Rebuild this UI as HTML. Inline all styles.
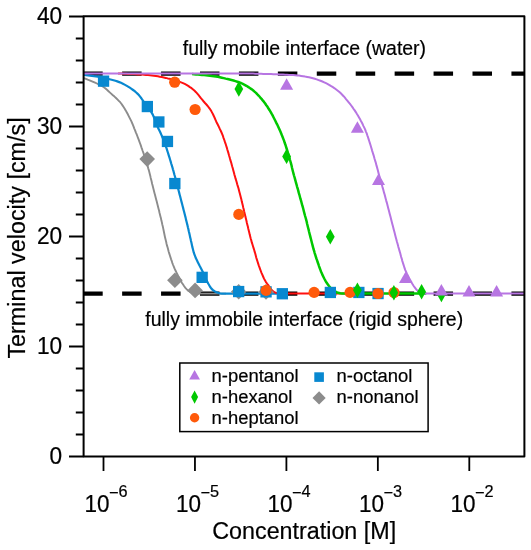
<!DOCTYPE html>
<html lang="en"><head><meta charset="utf-8"><title>Terminal velocity vs concentration</title>
<style>html,body{margin:0;padding:0;background:#fff}svg{display:block}svg text{font-family:"Liberation Sans",Arial,Helvetica,sans-serif;stroke:#000;stroke-width:0.2px}</style></head>
<body>
<svg width="531" height="550" viewBox="0 0 531 550" fill="#000">
<rect width="531" height="550" fill="#fff"/>
<!-- limit lines -->
<line x1="83.2" y1="73.6" x2="524.4" y2="73.6" stroke="#000" stroke-width="4.2" stroke-dasharray="19.5 19.43"/>
<line x1="83.2" y1="293.7" x2="524.4" y2="293.7" stroke="#000" stroke-width="4.2" stroke-dasharray="19.5 19.43"/>
<!-- fitted curves -->
<g fill="none" stroke-linejoin="round">
<path d="M84.0,78.1L85.9,78.8L87.7,79.6L89.6,80.3L91.4,81.1L93.2,81.9L95.1,82.7L96.9,83.5L98.8,84.4L100.6,85.2L102.3,86.2L103.9,87.3L105.5,88.5L107.0,89.8L108.5,91.2L110.0,92.6L111.4,93.9L112.9,95.3L114.5,96.6L116.0,98.0L117.4,99.4L118.8,100.8L120.2,102.2L121.4,103.8L122.5,105.4L123.6,107.0L124.7,108.7L125.7,110.4L126.7,112.2L127.7,114.0L128.6,115.8L129.5,117.6L130.4,119.4L131.3,121.2L132.1,123.0L132.9,124.8L133.6,126.7L134.3,128.6L135.1,130.4L135.8,132.3L136.6,134.1L137.3,136.0L138.0,137.9L138.7,139.7L139.4,141.6L140.1,143.5L140.8,145.4L141.4,147.3L142.1,149.2L142.7,151.0L143.4,152.9L144.0,154.8L144.7,156.7L145.3,158.6L145.9,160.5L146.5,162.4L147.1,164.3L147.7,166.3L148.2,168.2L148.8,170.1L149.3,172.0L149.8,174.0L150.3,175.9L150.7,177.9L151.2,179.8L151.7,181.8L152.1,183.7L152.6,185.6L153.1,187.6L153.6,189.5L154.1,191.5L154.6,193.4L155.1,195.3L155.6,197.3L156.1,199.2L156.6,201.1L157.1,203.1L157.6,205.0L158.1,207.0L158.6,208.9L159.1,210.8L159.5,212.8L160.0,214.7L160.5,216.7L161.0,218.6L161.4,220.6L161.9,222.5L162.3,224.5L162.8,226.4L163.2,228.4L163.6,230.3L164.0,232.3L164.4,234.2L164.8,236.2L165.2,238.1L165.7,240.1L166.2,242.0L166.6,244.0L167.1,245.9L167.7,247.8L168.2,249.8L168.7,251.7L169.3,253.6L169.9,255.5L170.5,257.4L171.1,259.3L171.8,261.2L172.4,263.1L173.1,265.0L173.9,266.9L174.6,268.7L175.5,270.5L176.4,272.3L177.3,274.1L178.2,275.9L179.2,277.6L180.1,279.4L181.0,281.2L182.0,282.9L183.1,284.6L184.2,286.3L185.4,287.9L186.8,289.4L188.2,290.7L189.9,291.8L191.7,292.6L193.7,293.3L195.6,293.6L197.6,293.6L199.5,293.6L201.5,293.6L203.5,293.6L205.4,293.6L207.4,293.6L209.4,293.6L211.4,293.6L213.4,293.6L215.4,293.6L217.4,293.6L219.5,293.6L221.5,293.6L223.6,293.6L225.6,293.6L226.0,293.6" stroke="#8c8c8c" stroke-width="1.9"/>
<path d="M84.0,75.0L86.0,75.2L88.0,75.4L90.0,75.6L92.0,75.9L93.9,76.2L95.9,76.4L97.9,76.7L99.9,77.0L101.8,77.4L103.8,77.8L105.8,78.2L107.7,78.7L109.6,79.2L111.6,79.7L113.5,80.2L115.4,80.8L117.3,81.4L119.2,82.1L121.0,82.8L122.9,83.7L124.6,84.6L126.4,85.6L128.1,86.6L129.8,87.7L131.5,88.8L133.1,90.0L134.7,91.2L136.2,92.5L137.7,93.9L139.1,95.3L140.3,96.9L141.5,98.5L142.6,100.1L143.8,101.8L144.9,103.4L146.1,105.0L147.3,106.7L148.5,108.2L149.7,109.8L150.9,111.4L151.9,113.1L152.9,114.9L153.7,116.7L154.5,118.6L155.2,120.4L155.9,122.3L156.6,124.2L157.4,126.0L158.1,127.9L159.0,129.7L159.9,131.5L160.7,133.3L161.5,135.1L162.3,137.0L163.1,138.8L163.8,140.7L164.5,142.6L165.2,144.4L165.8,146.3L166.5,148.2L167.1,150.1L167.7,152.0L168.3,153.9L168.9,155.8L169.5,157.7L170.1,159.7L170.7,161.6L171.2,163.5L171.8,165.4L172.4,167.3L172.9,169.3L173.5,171.2L174.0,173.1L174.5,175.0L175.1,177.0L175.6,178.9L176.1,180.8L176.6,182.8L177.1,184.7L177.6,186.6L178.1,188.6L178.6,190.5L179.1,192.4L179.6,194.4L180.1,196.3L180.6,198.2L181.1,200.2L181.6,202.1L182.1,204.1L182.6,206.0L183.1,207.9L183.6,209.9L184.1,211.8L184.6,213.8L185.1,215.7L185.6,217.6L186.0,219.6L186.5,221.5L187.0,223.5L187.5,225.4L187.9,227.3L188.4,229.3L188.8,231.2L189.3,233.2L189.7,235.1L190.1,237.1L190.6,239.0L191.0,241.0L191.5,243.0L191.9,244.9L192.3,246.9L192.8,248.8L193.3,250.7L193.8,252.7L194.5,254.6L195.2,256.4L195.9,258.3L196.8,260.1L197.7,261.9L198.6,263.7L199.5,265.5L200.4,267.2L201.3,269.0L202.2,270.8L203.1,272.6L203.9,274.4L204.8,276.2L205.6,278.1L206.4,279.9L207.3,281.7L208.2,283.5L209.2,285.2L210.2,287.0L211.4,288.6L212.7,289.9L214.4,291.2L216.2,292.1L218.0,292.8L220.0,293.4L222.0,293.6L223.9,293.6L225.9,293.6L227.9,293.6L229.9,293.6L231.8,293.6L233.8,293.6L235.8,293.6L237.8,293.6L239.7,293.6L241.7,293.6L243.7,293.6L245.7,293.6L247.7,293.6L249.7,293.6L251.7,293.6L253.7,293.6L255.7,293.6L257.7,293.6L259.7,293.6L261.7,293.6L263.7,293.6L265.7,293.6L267.8,293.6L269.8,293.6L271.8,293.6L273.8,293.6L275.9,293.6L277.9,293.6L280.0,293.6L281.0,293.6" stroke="#0888d0" stroke-width="2.2"/>
<path d="M118.0,73.5L120.0,73.6L122.0,73.6L124.0,73.7L126.0,73.8L128.0,73.9L130.0,74.0L132.0,74.0L134.0,74.1L136.0,74.3L138.0,74.4L140.0,74.5L142.0,74.6L144.0,74.7L146.0,74.9L148.0,75.0L150.0,75.2L151.9,75.4L153.9,75.7L155.9,76.0L157.9,76.3L159.8,76.7L161.8,77.1L163.8,77.5L165.7,77.9L167.7,78.4L169.6,78.8L171.5,79.3L173.5,79.9L175.4,80.4L177.3,81.0L179.2,81.7L181.1,82.4L183.0,83.1L184.7,83.9L186.5,84.9L188.2,85.9L189.9,87.1L191.6,88.2L193.1,89.5L194.6,90.8L196.0,92.2L197.3,93.7L198.6,95.2L199.9,96.8L201.1,98.4L202.4,99.9L203.7,101.5L205.0,103.0L206.4,104.5L207.7,106.0L208.9,107.6L210.1,109.2L211.2,110.9L212.1,112.6L213.0,114.3L213.9,116.2L214.7,118.0L215.5,119.8L216.3,121.7L217.2,123.5L218.1,125.3L219.0,127.1L219.8,128.9L220.7,130.7L221.5,132.5L222.3,134.4L223.0,136.2L223.6,138.1L224.3,140.0L224.9,141.9L225.6,143.8L226.2,145.7L226.8,147.6L227.3,149.5L227.9,151.4L228.5,153.4L229.0,155.3L229.6,157.2L230.1,159.1L230.7,161.1L231.3,163.0L231.8,164.9L232.3,166.8L232.9,168.8L233.4,170.7L233.9,172.6L234.4,174.6L235.0,176.5L235.5,178.4L236.1,180.3L236.7,182.2L237.2,184.2L237.8,186.1L238.4,188.0L238.9,189.9L239.4,191.9L239.9,193.8L240.4,195.7L240.9,197.7L241.4,199.6L241.8,201.6L242.3,203.5L242.8,205.4L243.2,207.4L243.7,209.3L244.1,211.3L244.6,213.2L245.1,215.2L245.5,217.1L246.0,219.1L246.5,221.0L246.9,223.0L247.4,224.9L247.9,226.8L248.3,228.8L248.8,230.7L249.3,232.7L249.7,234.6L250.2,236.6L250.7,238.5L251.3,240.4L251.8,242.4L252.4,244.3L253.0,246.2L253.6,248.1L254.2,250.0L254.7,251.9L255.3,253.8L255.8,255.8L256.3,257.7L256.9,259.6L257.5,261.5L258.1,263.4L258.7,265.3L259.4,267.2L260.1,269.1L260.8,271.0L261.5,272.8L262.3,274.7L263.1,276.5L263.9,278.4L264.8,280.1L265.8,281.8L267.0,283.5L268.2,285.1L269.3,286.8L270.5,288.5L271.7,290.0L273.2,291.3L274.9,292.5L276.7,293.1L278.7,293.5L280.7,293.6L282.7,293.6L284.7,293.6L286.7,293.6L288.6,293.6L290.6,293.6L292.6,293.6L294.6,293.6L296.6,293.6L298.6,293.6L300.6,293.6L302.6,293.6L304.6,293.6L306.6,293.6L308.6,293.6L310.5,293.6L312.5,293.6L314.5,293.6L316.5,293.6L318.5,293.6L320.5,293.6L322.6,293.6L324.6,293.6L326.6,293.6L328.6,293.6L330.6,293.6L332.6,293.6L334.6,293.6L336.6,293.6L338.6,293.6L340.6,293.6L342.7,293.6L344.7,293.6L346.0,293.6" stroke="#ff1010" stroke-width="2.0"/>
<path d="M192.0,74.0L194.0,74.2L196.0,74.4L198.0,74.5L200.0,74.7L202.0,74.9L204.0,75.1L206.0,75.3L207.9,75.5L209.9,75.7L211.9,76.0L213.9,76.2L215.9,76.5L217.8,76.9L219.8,77.3L221.8,77.7L223.7,78.1L225.7,78.6L227.6,79.0L229.6,79.5L231.5,80.0L233.5,80.5L235.4,81.1L237.3,81.7L239.2,82.3L241.0,83.0L242.8,83.9L244.6,84.8L246.4,85.8L248.1,86.9L249.8,88.0L251.4,89.1L253.0,90.3L254.5,91.6L256.0,92.9L257.4,94.4L258.8,95.8L260.1,97.3L261.5,98.8L262.7,100.4L264.0,101.9L265.2,103.5L266.3,105.2L267.5,106.8L268.5,108.5L269.6,110.2L270.6,111.9L271.6,113.7L272.6,115.4L273.5,117.2L274.4,119.0L275.3,120.8L276.2,122.6L277.1,124.3L278.0,126.2L278.8,128.0L279.6,129.8L280.4,131.6L281.2,133.5L281.9,135.3L282.7,137.2L283.4,139.1L284.1,140.9L284.7,142.8L285.4,144.7L286.0,146.6L286.6,148.5L287.2,150.4L287.8,152.4L288.4,154.3L289.0,156.2L289.5,158.1L290.0,160.0L290.6,162.0L291.1,163.9L291.6,165.8L292.0,167.8L292.5,169.7L293.0,171.7L293.5,173.6L294.0,175.5L294.6,177.5L295.1,179.4L295.6,181.3L296.1,183.2L296.7,185.2L297.2,187.1L297.8,189.0L298.3,190.9L298.8,192.9L299.4,194.8L299.9,196.7L300.4,198.7L301.0,200.6L301.5,202.5L302.0,204.4L302.6,206.4L303.1,208.3L303.6,210.2L304.1,212.2L304.6,214.1L305.1,216.0L305.7,218.0L306.2,219.9L306.7,221.8L307.1,223.8L307.6,225.7L308.1,227.7L308.6,229.6L309.0,231.5L309.5,233.5L310.0,235.4L310.5,237.4L311.0,239.3L311.5,241.3L312.0,243.2L312.5,245.1L313.0,247.1L313.5,249.0L314.1,250.9L314.6,252.8L315.2,254.7L315.8,256.6L316.4,258.5L317.1,260.4L317.7,262.3L318.4,264.2L319.0,266.1L319.7,268.0L320.4,269.9L321.1,271.8L321.9,273.6L322.7,275.4L323.6,277.2L324.5,279.0L325.5,280.8L326.5,282.5L327.7,284.2L328.8,285.8L330.1,287.3L331.5,288.7L333.0,290.1L334.6,291.2L336.4,292.2L338.3,292.8L340.2,293.3L342.2,293.6L344.2,293.6L346.2,293.6L348.2,293.6L350.2,293.6L352.1,293.6L354.1,293.6L356.1,293.6L358.1,293.6L360.1,293.6L362.1,293.6L364.0,293.6L366.0,293.6L368.0,293.6L370.0,293.6L372.0,293.6L374.0,293.6L376.0,293.6L378.0,293.6L380.0,293.6L381.9,293.6L383.9,293.6L385.9,293.6L387.9,293.6L389.9,293.6L391.9,293.6L393.9,293.6L396.0,293.6L398.0,293.6L400.0,293.6L402.0,293.6L404.0,293.6L406.0,293.6L408.0,293.6L410.0,293.6L412.1,293.6L414.1,293.6L416.1,293.6L418.1,293.6L420.1,293.6L422.2,293.6L424.2,293.6L426.2,293.6L426.3,293.6" stroke="#00c800" stroke-width="2.5"/>
<path d="M83.2,73.5L85.2,73.5L87.2,73.5L89.2,73.5L91.2,73.5L93.2,73.5L95.2,73.5L97.2,73.5L99.2,73.5L101.2,73.5L103.2,73.5L105.2,73.5L107.2,73.5L109.2,73.5L111.2,73.5L113.2,73.5L115.2,73.5L117.2,73.5L119.2,73.5L121.2,73.5L123.2,73.5L125.2,73.5L127.2,73.5L129.2,73.5L131.2,73.5L133.2,73.5L135.2,73.5L137.2,73.5L139.2,73.5L141.2,73.5L143.2,73.5L145.2,73.5L147.2,73.5L149.2,73.5L151.2,73.5L153.2,73.5L155.2,73.5L157.2,73.5L159.2,73.5L161.2,73.5L163.2,73.5L165.2,73.5L167.2,73.5L169.2,73.5L171.2,73.5L173.2,73.5L175.2,73.5L177.2,73.5L179.2,73.5L181.2,73.5L183.2,73.5L185.2,73.5L187.2,73.5L189.2,73.5L191.2,73.5L193.2,73.5L195.2,73.5L197.2,73.5L199.2,73.5L201.2,73.5L203.2,73.5L205.2,73.5L207.2,73.5L209.2,73.5L211.2,73.5L213.2,73.5L215.2,73.5L217.2,73.5L219.2,73.5L221.2,73.5L223.2,73.5L225.2,73.5L227.2,73.5L229.2,73.5L231.2,73.5L233.2,73.5L235.2,73.5L237.2,73.5L239.2,73.5L241.2,73.5L243.2,73.5L245.2,73.5L247.2,73.5L249.2,73.6L251.2,73.6L253.2,73.6L255.2,73.7L257.2,73.7L259.2,73.8L261.2,73.8L263.2,73.9L265.2,73.9L267.2,74.0L269.2,74.0L271.2,74.1L273.2,74.2L275.2,74.2L277.2,74.3L279.2,74.4L281.2,74.5L283.2,74.6L285.2,74.7L287.2,74.8L289.2,74.9L291.2,75.0L293.2,75.1L295.2,75.2L297.2,75.4L299.1,75.6L301.1,75.9L303.1,76.2L305.1,76.6L307.1,76.9L309.0,77.3L311.0,77.8L312.9,78.3L314.8,78.8L316.7,79.4L318.6,80.1L320.5,80.8L322.4,81.5L324.2,82.3L326.0,83.2L327.8,84.1L329.5,85.1L331.2,86.2L332.9,87.2L334.6,88.3L336.2,89.5L337.8,90.7L339.4,92.0L340.8,93.3L342.2,94.7L343.6,96.2L344.9,97.7L346.2,99.3L347.5,100.8L348.7,102.3L350.0,103.9L351.2,105.5L352.4,107.1L353.5,108.8L354.7,110.4L355.8,112.1L356.8,113.8L357.9,115.5L358.9,117.2L359.9,118.9L360.8,120.7L361.8,122.5L362.7,124.3L363.5,126.1L364.4,127.9L365.2,129.7L365.9,131.6L366.7,133.4L367.3,135.3L368.0,137.2L368.6,139.1L369.2,141.0L369.8,142.9L370.4,144.8L371.0,146.8L371.6,148.7L372.1,150.6L372.7,152.5L373.3,154.4L373.9,156.3L374.4,158.2L375.0,160.2L375.6,162.1L376.1,164.0L376.6,165.9L377.2,167.9L377.7,169.8L378.2,171.7L378.7,173.7L379.2,175.6L379.7,177.5L380.3,179.5L380.9,181.4L381.4,183.3L382.0,185.2L382.5,187.1L383.1,189.1L383.6,191.0L384.1,192.9L384.7,194.8L385.2,196.8L385.7,198.7L386.2,200.6L386.8,202.6L387.3,204.5L387.8,206.4L388.3,208.4L388.8,210.3L389.3,212.2L389.8,214.2L390.3,216.1L390.8,218.0L391.3,220.0L391.8,221.9L392.3,223.9L392.8,225.8L393.3,227.7L393.8,229.7L394.3,231.6L394.8,233.5L395.3,235.5L395.8,237.4L396.3,239.3L396.8,241.3L397.4,243.2L397.9,245.1L398.4,247.1L399.0,249.0L399.5,250.9L400.1,252.8L400.6,254.8L401.1,256.7L401.7,258.6L402.2,260.6L402.8,262.5L403.4,264.4L404.0,266.3L404.6,268.2L405.3,270.1L406.1,271.9L406.9,273.7L407.8,275.5L408.7,277.3L409.6,279.1L410.6,280.8L411.6,282.6L412.6,284.3L413.7,286.0L414.9,287.6L416.1,289.2L417.5,290.6L419.1,291.8L420.9,292.7L422.8,293.2L424.8,293.5L426.8,293.6L428.8,293.6L430.8,293.6L432.8,293.6L434.8,293.6L436.7,293.6L438.7,293.6L440.7,293.6L442.7,293.6L444.7,293.6L446.7,293.6L448.6,293.6L450.6,293.6L452.6,293.6L454.6,293.6L456.6,293.6L458.6,293.6L460.6,293.6L462.6,293.6L464.6,293.6L466.6,293.6L468.5,293.6L470.5,293.6L472.5,293.6L474.5,293.6L476.5,293.6L478.5,293.6L480.5,293.6L482.5,293.6L484.5,293.6L486.5,293.6L488.5,293.6L490.5,293.6L492.6,293.6L494.6,293.6L496.6,293.6L498.6,293.6L500.6,293.6L502.6,293.6L504.6,293.6L506.6,293.6L508.7,293.6L510.7,293.6L512.7,293.6L514.7,293.6L516.7,293.6L518.8,293.6L520.8,293.6L522.8,293.6L524.5,293.6" stroke="#b775e2" stroke-width="2.0"/>
</g>
<!-- data markers -->
<polygon points="147.2,151.3 155.0,159.1 147.2,166.9 139.4,159.1" fill="#8c8c8c"/>
<polygon points="174.9,272.5 182.7,280.3 174.9,288.1 167.1,280.3" fill="#8c8c8c"/>
<polygon points="195.1,282.6 202.9,290.4 195.1,298.2 187.3,290.4" fill="#8c8c8c"/>
<polygon points="238.7,283.9 246.5,291.7 238.7,299.5 230.9,291.7" fill="#8c8c8c"/>
<polygon points="266.0,284.1 273.8,291.9 266.0,299.7 258.2,291.9" fill="#8c8c8c"/>
<rect x="97.9" y="75.5" width="11.3" height="11.3" fill="#0888d0"/>
<rect x="141.7" y="100.9" width="11.3" height="11.3" fill="#0888d0"/>
<rect x="153.2" y="116.3" width="11.3" height="11.3" fill="#0888d0"/>
<rect x="161.8" y="135.8" width="11.3" height="11.3" fill="#0888d0"/>
<rect x="169.2" y="177.9" width="11.3" height="11.3" fill="#0888d0"/>
<rect x="196.5" y="271.7" width="11.3" height="11.3" fill="#0888d0"/>
<rect x="233.0" y="285.9" width="11.3" height="11.3" fill="#0888d0"/>
<rect x="260.4" y="286.2" width="11.3" height="11.3" fill="#0888d0"/>
<rect x="276.7" y="288.1" width="11.3" height="11.3" fill="#0888d0"/>
<rect x="324.7" y="286.8" width="11.3" height="11.3" fill="#0888d0"/>
<rect x="353.2" y="286.8" width="11.3" height="11.3" fill="#0888d0"/>
<rect x="372.4" y="287.9" width="11.3" height="11.3" fill="#0888d0"/>
<circle cx="174.7" cy="82.2" r="5.6" fill="#ff5a0a"/>
<circle cx="195.1" cy="109.5" r="5.6" fill="#ff5a0a"/>
<circle cx="238.8" cy="214.4" r="5.6" fill="#ff5a0a"/>
<circle cx="266.1" cy="290.4" r="5.6" fill="#ff5a0a"/>
<circle cx="314.1" cy="292.4" r="5.6" fill="#ff5a0a"/>
<circle cx="350.1" cy="292.4" r="5.6" fill="#ff5a0a"/>
<circle cx="378.0" cy="293.5" r="5.6" fill="#ff5a0a"/>
<circle cx="394.0" cy="292.5" r="5.6" fill="#ff5a0a"/>
<polygon points="238.8,81.3 243.2,89.0 238.8,96.7 234.5,89.0" fill="#00c800"/>
<polygon points="286.6,148.7 291.0,156.4 286.6,164.1 282.2,156.4" fill="#00c800"/>
<polygon points="330.3,229.1 334.7,236.8 330.3,244.5 325.9,236.8" fill="#00c800"/>
<polygon points="357.4,282.5 361.8,290.2 357.4,297.9 353.0,290.2" fill="#00c800"/>
<polygon points="393.9,285.1 398.2,292.8 393.9,300.5 389.5,292.8" fill="#00c800"/>
<polygon points="421.6,284.0 426.0,291.7 421.6,299.4 417.2,291.7" fill="#00c800"/>
<polygon points="441.4,286.8 445.8,294.5 441.4,302.2 437.0,294.5" fill="#00c800"/>
<polygon points="286.6,78.3 293.1,89.7 280.1,89.7" fill="#b775e2"/>
<polygon points="357.4,121.3 363.9,132.7 350.9,132.7" fill="#b775e2"/>
<polygon points="378.5,173.5 385.0,184.9 372.0,184.9" fill="#b775e2"/>
<polygon points="405.5,271.7 412.0,283.1 399.0,283.1" fill="#b775e2"/>
<polygon points="441.4,284.0 447.9,295.4 434.9,295.4" fill="#b775e2"/>
<polygon points="469.0,285.0 475.5,296.4 462.5,296.4" fill="#b775e2"/>
<polygon points="496.6,285.0 503.1,296.4 490.1,296.4" fill="#b775e2"/>
<!-- axes -->
<rect x="83.6" y="16.15" width="440.8" height="440.35" fill="none" stroke="#000" stroke-width="2" stroke-linejoin="round"/>
<path d="M69,456.50H83.6 M75.8,434.50H83.6 M75.8,412.50H83.6 M75.8,390.50H83.6 M75.8,368.50H83.6 M69,346.50H83.6 M75.8,324.50H83.6 M75.8,302.50H83.6 M75.8,280.50H83.6 M75.8,258.50H83.6 M69,236.50H83.6 M75.8,214.50H83.6 M75.8,192.50H83.6 M75.8,170.50H83.6 M75.8,148.50H83.6 M69,126.50H83.6 M75.8,104.50H83.6 M75.8,82.50H83.6 M75.8,60.50H83.6 M75.8,38.50H83.6 M69,16.50H83.6 M103.50,456.5V471 M194.95,456.5V471 M286.40,456.5V471 M377.85,456.5V471 M469.30,456.5V471" stroke="#000" stroke-width="1.8" fill="none"/>
<!-- tick labels -->
<text transform="translate(62.2,464.2) scale(1,1.045)" font-size="22.7" text-anchor="end">0</text>
<text transform="translate(62.2,354.2) scale(1,1.045)" font-size="22.7" text-anchor="end">10</text>
<text transform="translate(62.2,244.2) scale(1,1.045)" font-size="22.7" text-anchor="end">20</text>
<text transform="translate(62.2,134.2) scale(1,1.045)" font-size="22.7" text-anchor="end">30</text>
<text transform="translate(62.2,24.2) scale(1,1.045)" font-size="22.7" text-anchor="end">40</text>
<text transform="translate(84.6,511.9) scale(1,1.045)" font-size="22.5">10</text><text x="109.1" y="496.9" font-size="16.3"><tspan dy="0.8">−</tspan><tspan dy="-0.8">6</tspan></text>
<text transform="translate(176.0,511.9) scale(1,1.045)" font-size="22.5">10</text><text x="200.5" y="496.9" font-size="16.3"><tspan dy="0.8">−</tspan><tspan dy="-0.8">5</tspan></text>
<text transform="translate(267.5,511.9) scale(1,1.045)" font-size="22.5">10</text><text x="292.0" y="496.9" font-size="16.3"><tspan dy="0.8">−</tspan><tspan dy="-0.8">4</tspan></text>
<text transform="translate(359.0,511.9) scale(1,1.045)" font-size="22.5">10</text><text x="383.5" y="496.9" font-size="16.3"><tspan dy="0.8">−</tspan><tspan dy="-0.8">3</tspan></text>
<text transform="translate(450.4,511.9) scale(1,1.045)" font-size="22.5">10</text><text x="474.9" y="496.9" font-size="16.3"><tspan dy="0.8">−</tspan><tspan dy="-0.8">2</tspan></text>
<text x="304.2" y="539.1" font-size="23.3" text-anchor="middle">Concentration [M]</text>
<text transform="translate(25.3,237.95) rotate(-90)" font-size="23.35" text-anchor="middle">Terminal velocity [cm/s]</text>
<text x="304.45" y="55.1" font-size="19.47" text-anchor="middle">fully mobile interface (water)</text>
<text x="304.2" y="326.0" font-size="19.47" text-anchor="middle">fully immobile interface (rigid sphere)</text>
<!-- legend -->
<rect x="179.8" y="363.0" width="248.3" height="68.6" fill="#fff" stroke="#000" stroke-width="1.5"/>
<polygon points="194.6,370.1 200.0,379.5 189.2,379.5" fill="#b775e2"/>
<polygon points="194.6,390.5 198.1,397.1 194.6,403.7 191.1,397.1" fill="#00c800"/>
<circle cx="194.6" cy="417.8" r="4.7" fill="#ff5a0a"/>
<rect x="314.3" y="372.3" width="9.6" height="9.6" fill="#0888d0"/>
<polygon points="319.1,391.3 325.7,397.9 319.1,404.5 312.5,397.9" fill="#8c8c8c"/>
<text x="211.6" y="382.1" font-size="18.42">n-pentanol</text>
<text x="211.6" y="402.9" font-size="18.42">n-hexanol</text>
<text x="211.6" y="423.7" font-size="18.42">n-heptanol</text>
<text x="336.6" y="382.1" font-size="18.42">n-octanol</text>
<text x="336.6" y="402.9" font-size="18.42">n-nonanol</text>
</svg>
</body></html>
